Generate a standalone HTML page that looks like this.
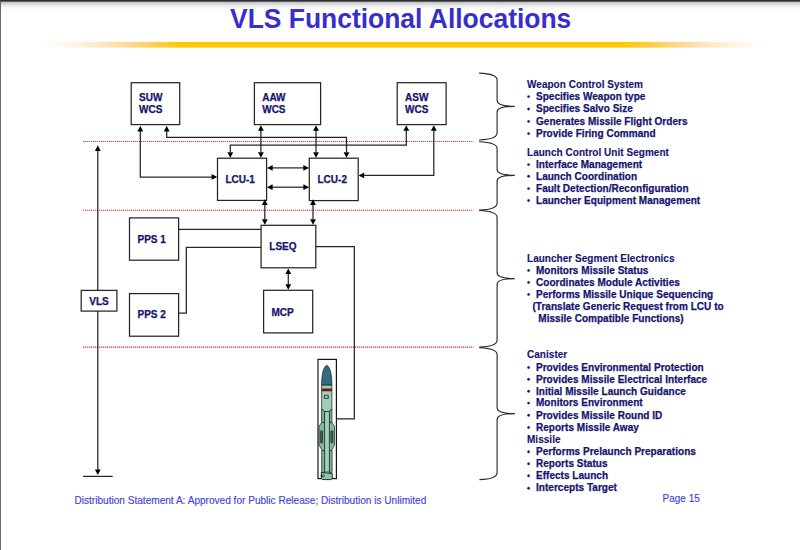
<!DOCTYPE html>
<html><head><meta charset="utf-8">
<style>
html,body{margin:0;padding:0;background:#fff;}
body{width:800px;height:550px;overflow:hidden;position:relative;font-family:"Liberation Sans",sans-serif;}
#topbar{position:absolute;left:0;top:0;width:800px;height:11px;background:linear-gradient(to bottom,#2b2f33 0.5px,#5d6064 1.5px,#c4c4c4 2.5px,#d4d4d4 3.5px,#e9e9e9 5.5px,#f6f6f6 7.5px,#fdfdfd 9.5px,#ffffff 10.5px);}
#leftbar{position:absolute;left:0;top:1px;width:1px;height:549px;background:#66696c;}
svg{position:absolute;left:0;top:0;}
</style></head><body>
<div id="topbar"></div>
<div id="leftbar"></div>
<svg width="800" height="550" viewBox="0 0 800 550">
<defs>
<linearGradient id="gold" x1="0" x2="1" y1="0" y2="0">
<stop offset="0" stop-color="#ffffff"/>
<stop offset="0.044" stop-color="#fff6ea"/>
<stop offset="0.085" stop-color="#fee8c8"/>
<stop offset="0.127" stop-color="#fdd890"/>
<stop offset="0.168" stop-color="#ffcc40"/>
<stop offset="0.2025" stop-color="#ffc800"/>
<stop offset="0.8017" stop-color="#ffc800"/>
<stop offset="0.843" stop-color="#ffcc40"/>
<stop offset="0.884" stop-color="#fdd890"/>
<stop offset="0.926" stop-color="#fee8c8"/>
<stop offset="0.967" stop-color="#fff6ea"/>
<stop offset="1" stop-color="#ffffff"/>
</linearGradient>
</defs>
<rect x="38" y="41.9" width="726" height="5.7" fill="url(#gold)"/>
<text x="230" y="0" transform="translate(0,27.6) scale(1,1.05)" font-family="Liberation Sans" font-weight="bold" font-size="26.45" fill="#3530cc">VLS Functional Allocations</text>

<!-- red dotted lines -->
<g stroke="#f0c4c4" stroke-width="1.1">
<line x1="83" y1="141.5" x2="473.3" y2="141.5"/>
<line x1="83" y1="210.2" x2="473.3" y2="210.2"/>
<line x1="83" y1="347.1" x2="473.3" y2="347.1"/>
</g>
<g stroke="#cc5858" stroke-width="1.1" stroke-dasharray="1 1">
<line x1="83" y1="141.5" x2="473.3" y2="141.5"/>
<line x1="83" y1="210.2" x2="473.3" y2="210.2"/>
<line x1="83" y1="347.1" x2="473.3" y2="347.1"/>
</g>

<!-- boxes -->
<g fill="#fff" stroke="#262626" stroke-width="1.25">
<rect x="131.2" y="82.7" width="48.5" height="41.9"/>
<rect x="254.4" y="82.7" width="66.2" height="41.9"/>
<rect x="397.2" y="82.7" width="48.9" height="41.9"/>
<rect x="217.5" y="158.2" width="49.1" height="42.2"/>
<rect x="309.3" y="158.2" width="48.9" height="42.4"/>
<rect x="129.5" y="217.9" width="49.1" height="42.3"/>
<rect x="129.5" y="293.6" width="49.1" height="42.6"/>
<rect x="261.1" y="225.3" width="54.7" height="42.5"/>
<rect x="263.6" y="290.3" width="49.1" height="42.6"/>
</g>

<!-- connector lines -->
<g fill="none" stroke="#262626" stroke-width="1.25">
<polyline points="140.3,130 140.3,177 212,177"/>
<polyline points="166.7,130 166.7,137.3 346.5,137.3 346.5,152"/>
<polyline points="230.3,152 230.3,145 406.3,145 406.3,130"/>
<line x1="260.9" y1="130" x2="260.9" y2="152"/>
<line x1="316" y1="130" x2="316" y2="152"/>
<polyline points="433.8,130 433.8,175.4 364,175.4"/>
<line x1="272" y1="167.9" x2="304" y2="167.9"/>
<line x1="272" y1="187.2" x2="304" y2="187.2"/>
<line x1="264.8" y1="204" x2="264.8" y2="219"/>
<line x1="313" y1="204" x2="313" y2="219"/>
<line x1="178.6" y1="229.4" x2="261.1" y2="229.4"/>
<polyline points="178.6,313 186.3,313 186.3,247.4 261.1,247.4"/>
<polyline points="315.8,246.5 354.3,246.5 354.3,418.9 336.4,418.9"/>
<line x1="288.3" y1="273" x2="288.3" y2="285"/>
<line x1="97.8" y1="150" x2="97.8" y2="470"/>
<line x1="83" y1="476.4" x2="112.7" y2="476.4"/>
</g>

<!-- arrowheads -->
<g fill="#000">
<path d="M140.3 125.8 l-2.9 5.6 h5.8 z"/>
<path d="M166.7 125.8 l-2.9 5.6 h5.8 z"/>
<path d="M260.9 125.2 l-2.9 5.6 h5.8 z"/>
<path d="M316 125.2 l-2.9 5.6 h5.8 z"/>
<path d="M406.3 125.2 l-2.9 5.6 h5.8 z"/>
<path d="M433.8 125.2 l-2.9 5.6 h5.8 z"/>
<path d="M264.8 199.3 l-2.9 5.6 h5.8 z"/>
<path d="M313 199.3 l-2.9 5.6 h5.8 z"/>
<path d="M288.3 268.4 l-2.9 5.6 h5.8 z"/>
<path d="M97.8 145.3 l-2.9 5.6 h5.8 z"/>
<path d="M346.5 157.8 l-2.9 -5.6 h5.8 z"/>
<path d="M230.3 157.8 l-2.9 -5.6 h5.8 z"/>
<path d="M260.9 157.8 l-2.9 -5.6 h5.8 z"/>
<path d="M316 157.8 l-2.9 -5.6 h5.8 z"/>
<path d="M264.8 224.8 l-2.9 -5.6 h5.8 z"/>
<path d="M313 224.8 l-2.9 -5.6 h5.8 z"/>
<path d="M288.3 289.8 l-2.9 -5.6 h5.8 z"/>
<path d="M97.8 475 l-2.9 -5.6 h5.8 z"/>
<path d="M217.2 176.9 l-5.6 -2.9 v5.8 z"/>
<path d="M309 167.9 l-5.6 -2.9 v5.8 z"/>
<path d="M309 187.2 l-5.6 -2.9 v5.8 z"/>
<path d="M358.6 175.4 l5.6 -2.9 v5.8 z"/>
<path d="M267 167.9 l5.6 -2.9 v5.8 z"/>
<path d="M267 187.2 l5.6 -2.9 v5.8 z"/>
</g>

<!-- VLS box on top of line -->
<rect x="81.2" y="290.4" width="35.7" height="20.7" fill="#fff" stroke="#262626" stroke-width="1.25"/>

<!-- box labels -->
<g font-family="Liberation Sans" font-weight="bold" font-size="10" fill="#14146e" stroke="#14146e" stroke-width="0.25">
<text x="139" y="101">SUW</text><text x="139" y="113.4">WCS</text>
<text x="262.2" y="101">AAW</text><text x="262.2" y="113.4">WCS</text>
<text x="405" y="101">ASW</text><text x="405" y="113.4">WCS</text>
<text x="225.4" y="183.4">LCU-1</text>
<text x="317.5" y="183.4">LCU-2</text>
<text x="137.5" y="242.5">PPS 1</text>
<text x="137.5" y="318.2">PPS 2</text>
<text x="269.3" y="249.8">LSEQ</text>
<text x="271.5" y="315.7">MCP</text>
<text x="89.3" y="304.7">VLS</text>
</g>

<!-- braces -->
<g fill="none" stroke="#2a2a2a" stroke-width="1.15">
<path d="M479.1 73.1 C490.1 73.5 497.1 75.0 497.1 80.0 L497.1 100.5 C497.1 104.0 503.1 106.3 514.8 106.3 C503.1 106.3 497.1 108.6 497.1 112.1 L497.1 133.1 C497.1 138.1 490.1 139.6 479.1 140.0"/>
<path d="M479.1 141.8 C490.1 142.2 497.1 143.7 497.1 148.7 L497.1 169.5 C497.1 173.0 503.1 175.3 514.8 175.3 C503.1 175.3 497.1 177.6 497.1 181.1 L497.1 203.2 C497.1 208.2 490.1 209.7 479.1 210.1"/>
<path d="M479.1 210.5 C490.1 210.9 497.1 212.4 497.1 217.4 L497.1 272.8 C497.1 276.3 503.1 278.6 514.8 278.6 C503.1 278.6 497.1 280.9 497.1 284.4 L497.1 340.2 C497.1 345.2 490.1 346.7 479.1 347.1"/>
<path d="M479.5 347.8 C490.5 348.2 497.1 349.7 497.1 354.7 L497.1 407.8 C497.1 411.3 503.1 413.6 515.0 413.6 C503.1 413.6 497.1 415.9 497.1 419.4 L497.1 472.7 C497.1 477.7 490.5 479.2 479.5 479.6"/>
</g>

<!-- right text -->
<g font-family="Liberation Sans" font-weight="bold" font-size="10" fill="#14146e" stroke="#14146e" stroke-width="0.25" letter-spacing="0.03">
<text x="527" y="87.8" stroke-width="0.12">Weapon Control System</text>
<circle cx="528.6" cy="96.6" r="1.2"/><text x="536" y="99.8">Specifies Weapon type</text>
<circle cx="528.6" cy="109.0" r="1.2"/><text x="536" y="112.2">Specifies Salvo Size</text>
<circle cx="528.6" cy="121.4" r="1.2"/><text x="536" y="124.6">Generates Missile Flight Orders</text>
<circle cx="528.6" cy="133.6" r="1.2"/><text x="536" y="136.8">Provide Firing Command</text>

<text x="527" y="155.7" stroke-width="0.12">Launch Control Unit Segment</text>
<circle cx="528.6" cy="164.6" r="1.2"/><text x="536" y="167.8">Interface Management</text>
<circle cx="528.6" cy="176.3" r="1.2"/><text x="536" y="179.5">Launch Coordination</text>
<circle cx="528.6" cy="188.6" r="1.2"/><text x="536" y="191.8">Fault Detection/Reconfiguration</text>
<circle cx="528.6" cy="200.5" r="1.2"/><text x="536" y="203.7">Launcher Equipment Management</text>

<text x="527" y="261.6" stroke-width="0.12">Launcher Segment Electronics</text>
<circle cx="528.6" cy="270.4" r="1.2"/><text x="536" y="273.6">Monitors Missile Status</text>
<circle cx="528.6" cy="282.4" r="1.2"/><text x="536" y="285.6">Coordinates Module Activities</text>
<circle cx="528.6" cy="294.4" r="1.2"/><text x="536" y="297.6">Performs Missile Unique Sequencing</text>
<text x="532.5" y="309.6">(Translate Generic Request from LCU to</text>
<text x="538.3" y="322">Missile Compatible Functions)</text>

<text x="527" y="358.1" stroke-width="0.12">Canister</text>
<circle cx="528.6" cy="367.5" r="1.2"/><text x="536" y="370.7">Provides Environmental Protection</text>
<circle cx="528.6" cy="379.3" r="1.2"/><text x="536" y="382.5">Provides Missile Electrical Interface</text>
<circle cx="528.6" cy="391.3" r="1.2"/><text x="536" y="394.5">Initial Missile Launch Guidance</text>
<circle cx="528.6" cy="403.1" r="1.2"/><text x="536" y="406.3">Monitors Environment</text>
<circle cx="528.6" cy="415.3" r="1.2"/><text x="536" y="418.5">Provides Missile Round ID</text>
<circle cx="528.6" cy="427.5" r="1.2"/><text x="536" y="430.7">Reports Missile Away</text>
<text x="527" y="442.6" stroke-width="0.12">Missile</text>
<circle cx="528.6" cy="451.8" r="1.2"/><text x="536" y="455">Performs Prelaunch Preparations</text>
<circle cx="528.6" cy="463.7" r="1.2"/><text x="536" y="466.9">Reports Status</text>
<circle cx="528.6" cy="475.8" r="1.2"/><text x="536" y="479">Effects Launch</text>
<circle cx="528.6" cy="488.2" r="1.2"/><text x="536" y="491.4">Intercepts Target</text>
</g>

<!-- canister + missile -->
<rect x="318" y="359.4" width="18.4" height="119.2" fill="#fff" stroke="#151515" stroke-width="1.2"/>
<g stroke="#14201a" stroke-width="0.7" stroke-linejoin="round">
<path d="M321.6 385.2 C321.6 373 323.8 366.5 326.75 365.2 C329.7 366.5 331.9 373 331.9 385.2 Z" fill="#2e6b84"/>
<path d="M321.6 385.2 L331.9 385.2 L331.9 408.8 L329.4 411.5 L324.6 411.5 L321.6 408.8 Z" fill="#a0cdb6"/>
<rect x="321.6" y="388.5" width="10.3" height="2.8" fill="#7a1414" stroke="none"/>
<rect x="324.4" y="395.3" width="3.9" height="3.1" fill="#a0cdb6" stroke-width="0.8"/>
<path d="M321.6 408.8 L324.6 411.5 L324.6 423 L321.6 423 Z" fill="#74b191"/>
<path d="M331.9 408.8 L329.4 411.5 L329.4 423 L331.9 423 Z" fill="#74b191"/>
<path d="M321.6 422.6 L319 426.3 L319 445 L322.2 450.6 L324.7 450.6 L324.7 422.6 Z" fill="#80ba9c"/>
<path d="M331.9 422.6 L334.5 426.3 L334.5 445 L331.3 450.6 L329.2 450.6 L329.2 422.6 Z" fill="#80ba9c"/>
<rect x="320.6" y="430.8" width="2.0" height="12.2" rx="0.8" fill="#3f6d57"/>
<rect x="330.9" y="430.8" width="2.0" height="12.2" rx="0.8" fill="#3f6d57"/>
<rect x="321.7" y="450.6" width="2.9" height="22" fill="#78b594"/>
<rect x="329.3" y="450.6" width="2.8" height="22" fill="#78b594"/>
<rect x="324.6" y="411.5" width="4.8" height="60.5" fill="#a3cfb9"/>
<path d="M321.3 472.4 L332.2 473.6 L332.4 478.6 L330.5 479.6 L322.5 479.6 L321.3 478.4 Z" fill="#90c6aa" stroke-width="0.9"/>
<ellipse cx="321.8" cy="476.1" rx="1.1" ry="1.4" fill="#1a2a22" stroke="none"/>
<path d="M322.8 474.6 L324.8 475.9 L322.8 477.2" fill="none" stroke-width="0.6"/>
</g>

<!-- footer -->
<text x="74.5" y="503.9" font-family="Liberation Sans" font-size="10.08" fill="#4444dc" stroke="#4444dc" stroke-width="0.15">Distribution Statement A: Approved for Public Release; Distribution is Unlimited</text>
<text x="662.5" y="501.7" font-family="Liberation Sans" font-size="10" fill="#4444dc" stroke="#4444dc" stroke-width="0.15">Page 15</text>
</svg>
</body></html>
